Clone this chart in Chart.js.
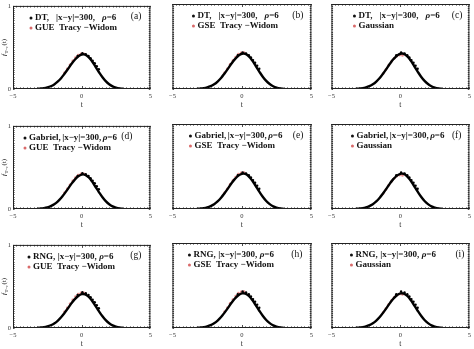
<!DOCTYPE html>
<html>
<head>
<meta charset="utf-8">
<script src="https://cdn.jsdelivr.net/npm/chart.js@4.4.1/dist/chart.umd.min.js"></script>
<style>
  html, body { margin: 0; padding: 0; background: #fff; }
  body { width: 474px; height: 349px; position: relative; overflow: hidden; }
  .panel { position: absolute; }
</style>
</head>
<body>
<script>
const tCurve = [-3.25, -3, -2.75, -2.5, -2.25, -2, -1.75, -1.5, -1.25, -1, -0.75, -0.5, -0.25, 0, 0.25, 0.5, 0.75, 1, 1.25, 1.5, 1.75, 2, 2.25, 2.5, 2.75, 3];
const fDT      = [0.002, 0.005, 0.01, 0.019, 0.033, 0.055, 0.088, 0.13, 0.183, 0.24, 0.3, 0.352, 0.392, 0.415, 0.414, 0.384, 0.334, 0.27, 0.205, 0.145, 0.095, 0.058, 0.032, 0.016, 0.007, 0.003];
const fGabriel = [0.002, 0.005, 0.01, 0.019, 0.034, 0.056, 0.089, 0.132, 0.185, 0.242, 0.302, 0.354, 0.393, 0.414, 0.412, 0.382, 0.332, 0.268, 0.204, 0.144, 0.094, 0.057, 0.031, 0.016, 0.007, 0.003];
const fRNG     = [0.002, 0.005, 0.01, 0.019, 0.033, 0.055, 0.087, 0.129, 0.181, 0.237, 0.296, 0.347, 0.386, 0.407, 0.405, 0.377, 0.329, 0.267, 0.203, 0.144, 0.094, 0.057, 0.031, 0.016, 0.007, 0.003];

// theory curves (red points, mostly hidden under the data)
const tTheory = [-1.25, -1.05, -0.85, -0.65, -0.45, -0.25, -0.05, 0.15];
const fGUE   = [0.195, 0.242, 0.292, 0.338, 0.378, 0.408, 0.424, 0.425];
const fGSE   = [0.19, 0.238, 0.29, 0.336, 0.377, 0.41, 0.427, 0.428];
const fGauss = [0.183, 0.23, 0.278, 0.323, 0.361, 0.387, 0.399, 0.395];

// scattered sample points right of the peak
const tPts = [-0.3, 0.05, 0.3, 0.5, 0.65, 0.8, 0.95, 1.1, 1.25];
const fPts = [0.398, 0.43, 0.418, 0.398, 0.37, 0.34, 0.31, 0.275, 0.238];

const xTicks = [-5, 0, 5];
const yTicks = [0, 1];

const sampleNames = ['DT', 'Gabriel', 'RNG'];
const theoryNames = ['GUE  Tracy \u2212Widom', 'GSE  Tracy \u2212Widom', 'Gaussian'];
const panelTags = [['(a)', '(b)', '(c)'], ['(d)', '(e)', '(f)'], ['(g)', '(h)', '(i)']];

const sampleCurves = [fDT, fGabriel, fRNG];
const theoryCurves = [fGUE, fGSE, fGauss];

// layout (plot area edges in page pixels)
const cols = [{ l: 13, r: 153 }, { l: 168, r: 314 }, { l: 327, r: 472 }];
const rows = [{ t: 3, b: 89 }, { t: 123, b: 209 }, { t: 242, b: 328 }];
const legendX = [[18, 21, 23], [12, 18, 21], [16, 17, 20]];
const legendGap = [7, 1.5, 2.5];
const tagRight = [[9, 8, 7], [18, 8, 8], [9, 9, 5]];

const SERIF = '"Liberation Serif", "DejaVu Serif", serif';

const pts = (xs, ys) => xs.map((x, i) => ({ x: x, y: ys[i] }));

const framePlugin = {
    id: 'frame',
    afterDatasetsDraw(chart, args, opts) {
        const { ctx, chartArea: a, scales: { x, y } } = chart;
        ctx.save();
        ctx.strokeStyle = '#222';
        ctx.lineWidth = 1;
        ctx.strokeRect(a.left + 0.5, a.top + 0.5, a.right - a.left - 1, a.bottom - a.top - 1);
        ctx.lineWidth = 0.8;
        ctx.beginPath();
        for (let v = -5; v <= 5.001; v += 0.25) {
            const px = Math.round(x.getPixelForValue(v)) + 0.5;
            const len = (Math.abs(v) < 0.01) ? 3 : 1.6;
            ctx.moveTo(px, a.bottom); ctx.lineTo(px, a.bottom - len);
            ctx.moveTo(px, a.top); ctx.lineTo(px, a.top + len);
        }
        for (let v = 0; v <= 1.001; v += 0.025) {
            const py = Math.round(y.getPixelForValue(v)) + 0.5;
            ctx.moveTo(a.left, py); ctx.lineTo(a.left + 1.6, py);
            ctx.moveTo(a.right, py); ctx.lineTo(a.right - 1.6, py);
        }
        ctx.stroke();

        // legend + panel tag
        const lx = a.left + opts.legX;
        const y1 = a.top + 12, y2 = a.top + 22;
        ctx.textBaseline = 'middle';
        ctx.textAlign = 'left';
        ctx.fillStyle = '#111';
        ctx.beginPath(); ctx.arc(lx, y1, 1.5, 0, Math.PI * 2); ctx.fill();
        let cx = lx + 4;
        ctx.font = 'bold 9px ' + SERIF;
        ctx.fillText(opts.sample + ',', cx, y1);
        cx += ctx.measureText(opts.sample + ',').width + opts.gap;
        ctx.fillText('|x\u2212y|=300,', cx, y1);
        cx += ctx.measureText('|x\u2212y|=300,').width + opts.gap;
        ctx.font = 'bold italic 9px ' + SERIF;
        ctx.fillText('\u03c1', cx, y1);
        cx += ctx.measureText('\u03c1').width;
        ctx.font = 'bold 9px ' + SERIF;
        ctx.fillText('=6', cx, y1);

        ctx.fillStyle = '#d96a6a';
        ctx.beginPath(); ctx.arc(lx, y2, 1.5, 0, Math.PI * 2); ctx.fill();
        ctx.fillStyle = '#111';
        ctx.fillText(opts.theory, lx + 4, y2);

        ctx.font = '9.5px ' + SERIF;
        ctx.textAlign = 'right';
        ctx.fillText(opts.tag, a.right - opts.tagR, a.top + 11);

        // y title for the left column
        if (opts.yTitle) {
            ctx.save();
            ctx.translate(4.5, (a.top + a.bottom) / 2);
            ctx.rotate(-Math.PI / 2);
            ctx.textAlign = 'left';
            ctx.font = 'italic 7px ' + SERIF;
            const w1 = ctx.measureText('f').width;
            ctx.font = '5px ' + SERIF;
            const w2 = ctx.measureText('T\u2212r').width;
            ctx.font = '7px ' + SERIF;
            const w3 = ctx.measureText('(t)').width;
            let tx = -(w1 + w2 + w3 + 1) / 2;
            ctx.font = 'italic 7px ' + SERIF;
            ctx.fillText('f', tx, 0); tx += w1 + 0.5;
            ctx.font = '5px ' + SERIF;
            ctx.fillText('T\u2212r', tx, 2); tx += w2 + 0.5;
            ctx.font = '7px ' + SERIF;
            ctx.fillText('(t)', tx, 0);
            ctx.restore();
        }
        ctx.restore();
    }
};

rows.forEach((row, ri) => {
    cols.forEach((col, ci) => {
        const yw = ci === 0 ? 13 : 2;
        const xh = 22;
        const div = document.createElement('div');
        div.className = 'panel';
        div.style.left = (col.l - yw) + 'px';
        div.style.top = (row.t - 3) + 'px';
        div.style.width = (yw + (col.r - col.l) + 2) + 'px';
        div.style.height = (3 + (row.b - row.t) + xh) + 'px';
        const canvas = document.createElement('canvas');
        div.appendChild(canvas);
        document.body.appendChild(div);

        new Chart(canvas.getContext('2d'), {
            type: 'scatter',
            data: {
                datasets: [{
                    type: 'line',
                    label: sampleNames[ri],
                    data: pts(tCurve, sampleCurves[ri]),
                    borderColor: '#000',
                    borderWidth: 2.4,
                    pointRadius: 0,
                    tension: 0.4,
                    fill: false,
                    order: 2
                },
                {
                    label: theoryNames[ci],
                    data: pts(tTheory, theoryCurves[ci]),
                    backgroundColor: 'rgba(228,120,120,0.85)',
                    borderWidth: 0,
                    pointRadius: 1.3,
                    order: 3
                },
                {
                    label: sampleNames[ri] + ' points',
                    data: pts(tPts, fPts),
                    backgroundColor: '#000',
                    borderWidth: 0,
                    pointRadius: 1.2,
                    order: 1
                }]
            },
            options: {
                responsive: true,
                maintainAspectRatio: false,
                animation: false,
                events: [],
                layout: { padding: { top: 3, right: 2, left: 0, bottom: 0 } },
                plugins: {
                    legend: { display: false },
                    tooltip: { enabled: false },
                    frame: {
                        legX: legendX[ri][ci],
                        gap: legendGap[ri],
                        sample: sampleNames[ri],
                        theory: theoryNames[ci],
                        tag: panelTags[ri][ci],
                        tagR: tagRight[ri][ci],
                        yTitle: ci === 0
                    }
                },
                scales: {
                    x: {
                        type: 'linear',
                        min: -5,
                        max: 5,
                        afterFit: (s) => { s.height = xh; },
                        afterBuildTicks: (s) => { s.ticks = xTicks.map(v => ({ value: v })); },
                        grid: { display: false, drawTicks: false },
                        border: { display: false },
                        ticks: {
                            autoSkip: false,
                            maxRotation: 0,
                            padding: 3,
                            color: '#333',
                            font: { family: SERIF, size: 6.5 },
                            callback: (v) => v < 0 ? '\u2212' + Math.abs(v) : String(v)
                        },
                        title: {
                            display: true,
                            text: 't',
                            color: '#222',
                            font: { family: SERIF, size: 7.5 },
                            padding: { top: 0, bottom: 1 }
                        }
                    },
                    y: {
                        min: 0,
                        max: 1,
                        afterFit: (s) => { s.width = yw; },
                        afterBuildTicks: (s) => { s.ticks = yTicks.map(v => ({ value: v })); },
                        grid: { display: false, drawTicks: false },
                        border: { display: false },
                        ticks: {
                            display: ci === 0,
                            padding: 2,
                            color: '#333',
                            font: { family: SERIF, size: 6.5 }
                        }
                    }
                }
            },
            plugins: [framePlugin]
        });
    });
});
</script>
</body>
</html>
